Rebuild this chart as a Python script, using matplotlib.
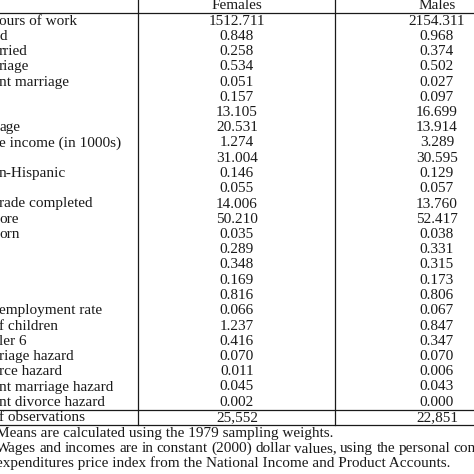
import matplotlib.pyplot as plt

labels = ["ours of work", "d", "rried", "riage", "nt marriage", "", "", "age",
          "e income (in 1000s)", "", "n-Hispanic", "", "rade completed", "ore",
          "orn", "", "", "", "", "employment rate", "f children", "ler 6",
          "riage hazard", "rce hazard", "nt marriage hazard", "nt divorce hazard"]
females = ["1512.711", "0.848", "0.258", "0.534", "0.051", "0.157", "13.105", "20.531",
           "1.274", "31.004", "0.146", "0.055", "14.006", "50.210", "0.035", "0.289",
           "0.348", "0.169", "0.816", "0.066", "1.237", "0.416", "0.070", "0.011",
           "0.045", "0.002"]
males = ["2154.311", "0.968", "0.374", "0.502", "0.027", "0.097", "16.699", "13.914",
         "3.289", "30.595", "0.129", "0.057", "13.760", "52.417", "0.038", "0.331",
         "0.315", "0.173", "0.806", "0.067", "0.847", "0.347", "0.070", "0.006",
         "0.043", "0.000"]
obs = ["f observations", "25,552", "22,851"]
note1 = "Means are calculated using the 1979 sampling weights."
note2 = "Wages and incomes are in constant (2000) dollar values, using the personal con"
note3 = "expenditures price index from the National Income and Product Accounts."

plt.rcParams['font.family'] = ['Liberation Serif', 'DejaVu Serif']
fig = plt.figure(figsize=(4.74, 4.74), dpi=100)
ax = fig.add_axes([0, 0, 1, 1])
ax.set_xlim(0, 474)
ax.set_ylim(474, 0)
ax.axis('off')

fs = 11
c = '#1a1a1a'
xf, xm = 237, 437
ax.text(xf, 5, "Females", ha='center', va='center', fontsize=fs, color=c)
ax.text(xm, 5, "Males", ha='center', va='center', fontsize=fs, color=c)
ax.plot([0, 474], [12.5, 12.5], color=c, lw=0.9)

y0, dy = 21, 15.25
for i, (lab, f, m) in enumerate(zip(labels, females, males)):
    y = y0 + i * dy
    ax.text(-1, y, lab, ha='left', va='center', fontsize=fs, color=c)
    ax.text(xf, y, f, ha='center', va='center', fontsize=fs, color=c)
    ax.text(xm, y, m, ha='center', va='center', fontsize=fs, color=c)

ylast = y0 + (len(labels) - 1) * dy
yo = ylast + dy
ax.plot([0, 474], [yo - 7.5, yo - 7.5], color=c, lw=0.9)
ax.plot([0, 474], [yo + 7.5, yo + 7.5], color=c, lw=0.9)
ax.text(-1, yo, obs[0], ha='left', va='center', fontsize=fs, color=c)
ax.text(xf, yo, obs[1], ha='center', va='center', fontsize=fs, color=c)
ax.text(xm, yo, obs[2], ha='center', va='center', fontsize=fs, color=c)

for x in (138.5, 335):
    ax.plot([x, x], [0, yo + 7.5], color=c, lw=0.9)

ax.text(-4, yo + 16, note1, ha='left', va='center', fontsize=fs, color=c)
ax.text(-4, yo + 46, note3, ha='left', va='center', fontsize=fs, color=c)

# justified line: measure word widths, spread the gaps
words = note2.split()
r = fig.canvas.get_renderer()
tmp = [ax.text(0, 0, w, fontsize=fs) for w in words]
widths = [t.get_window_extent(r).width for t in tmp]
for t in tmp:
    t.remove()
total = 480.0
gap = (total - sum(widths)) / (len(words) - 1)
x = -4
for w, wd in zip(words, widths):
    ax.text(x, yo + 31, w, ha='left', va='center', fontsize=fs, color=c)
    x += wd + gap

fig.savefig("out.png", dpi=100)
